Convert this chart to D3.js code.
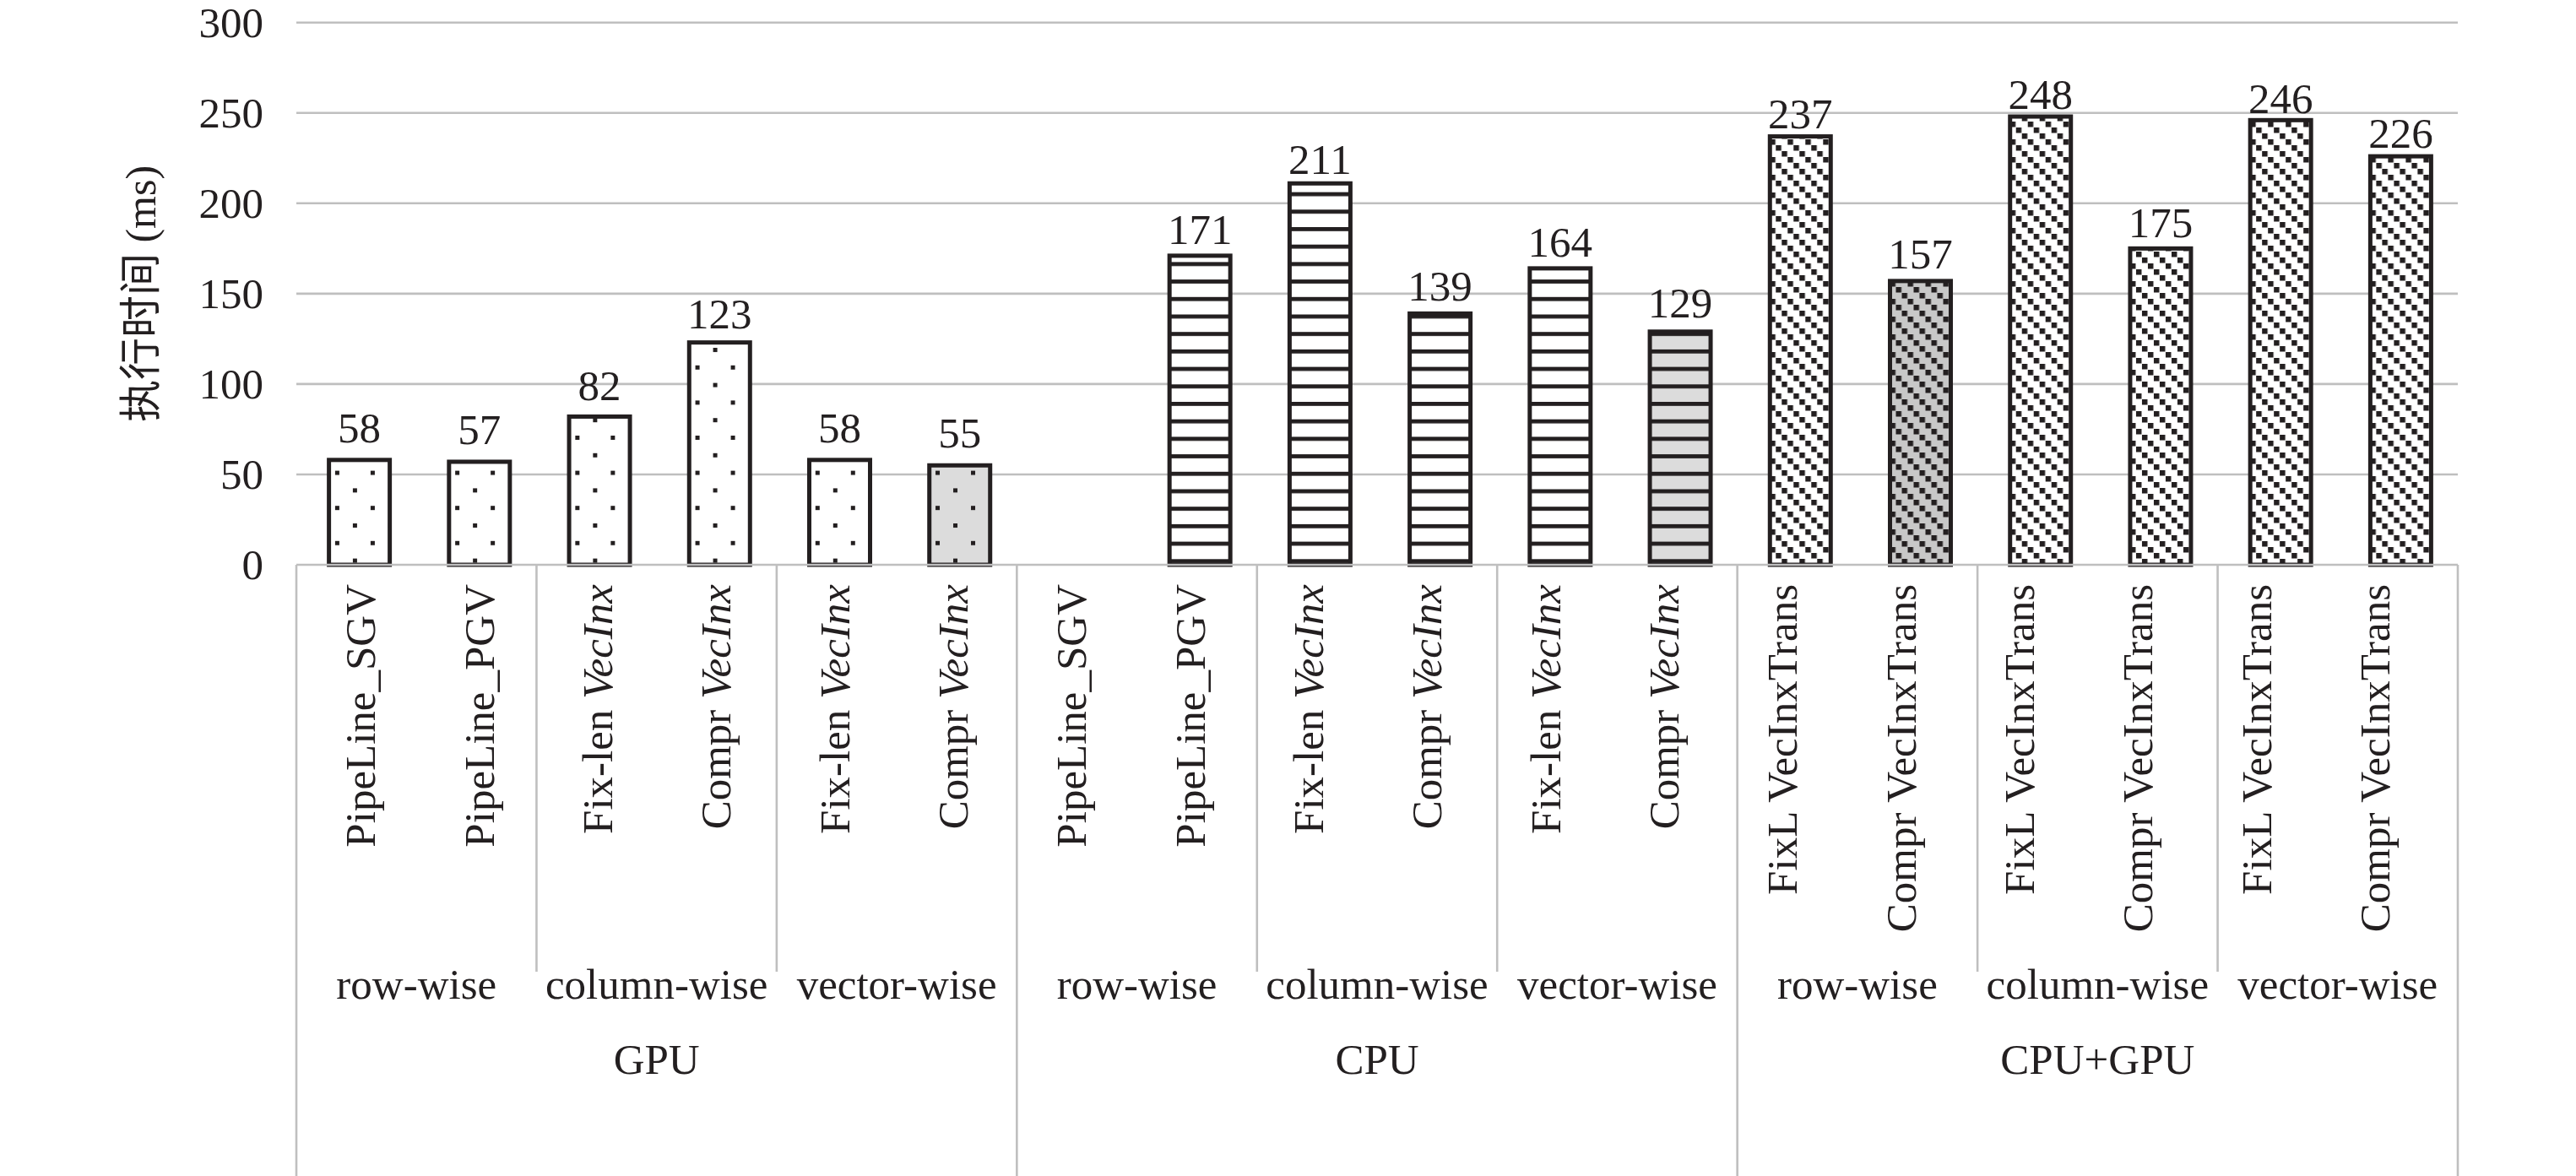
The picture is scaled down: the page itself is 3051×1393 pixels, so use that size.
<!DOCTYPE html>
<html>
<head>
<meta charset="utf-8">
<script src="https://cdn.jsdelivr.net/npm/d3@7/dist/d3.min.js"></script>
<style>
  body { margin: 0; background: #fff; }
  svg { display: block; }
</style>
</head>
<body>
<svg id="chart"></svg>
<script>
var groups = ['GPU', 'CPU', 'CPU+GPU'];
var subgroups = ['row-wise', 'column-wise', 'vector-wise'];
var categories = [
  'PipeLine_SGV', 'PipeLine_PGV', 'Fix-len VecInx', 'Compr VecInx', 'Fix-len VecInx', 'Compr VecInx',
  'PipeLine_SGV', 'PipeLine_PGV', 'Fix-len VecInx', 'Compr VecInx', 'Fix-len VecInx', 'Compr VecInx',
  'FixL VecInxTrans', 'Compr VecInxTrans', 'FixL VecInxTrans', 'Compr VecInxTrans', 'FixL VecInxTrans', 'Compr VecInxTrans'
];
var values = [58, 57, 82, 123, 58, 55, null, 171, 211, 139, 164, 129, 237, 157, 248, 175, 246, 226];
var yTicks = [0, 50, 100, 150, 200, 250, 300];
var yTitle = '执行时间 (ms)';

// looks
var W = 3051, H = 1393;
var INK = '#231f20', GRID = '#bfbfbf';
var FONT = "'Liberation Serif', 'Times New Roman', 'Noto Sans CJK SC', serif";
var FS = 51;
var groupPattern = { 'GPU': 'dots', 'CPU': 'hlines', 'CPU+GPU': 'diag' };
var shaded = { 5: '#dcdcdc', 11: '#dcdcdc', 13: '#c8c8c8' };

var svg = d3.select('#chart').attr('width', W).attr('height', H)
  .style('font-family', FONT).style('fill', INK);

svg.append('rect').attr('width', W).attr('height', H).attr('fill', '#fff');

var n = categories.length;
var x = d3.scaleBand().domain(d3.range(n)).range([351, 2911]);
var y = d3.scaleLinear().domain([0, 300]).range([669, 26.7]);
// the label rows in the picture sit on a slightly tighter spacing than the bars
var labelX = d3.scaleBand().domain(d3.range(n)).range([357, 2883]);
var labelY = d3.scaleLinear().domain([0, 300]).range([644, 21.6]);

var x0 = x.range()[0], x1 = x.range()[1], step = x.step();
var barW = 72, shift = 3.5;

function barLeft(i) { return x(i) + x.bandwidth() / 2 + shift - barW / 2; }
function groupOf(i) { return groups[Math.floor(i / 6)]; }

// gridlines
svg.append('g').selectAll('line')
  .data(yTicks.filter(function(d) { return d > 0; }))
  .join('line')
  .attr('x1', x0).attr('x2', x1)
  .attr('y1', function(d) { return y(d); })
  .attr('y2', function(d) { return y(d); })
  .attr('stroke', GRID).attr('stroke-width', 2.6);

// y axis labels
var yAxis = svg.append('g')
  .attr('transform', 'translate(' + x0 + ',0)')
  .call(d3.axisLeft(y).tickValues(yTicks).tickSize(0).tickPadding(39));
yAxis.select('.domain').remove();
yAxis.selectAll('text')
  .attr('font-family', FONT).attr('font-size', FS).attr('fill', INK);

// bar fills
var defs = svg.append('defs');
var barIdx = d3.range(n).filter(function(i) { return values[i] != null; });

barIdx.forEach(function(i) {
  var kind = groupPattern[groupOf(i)];
  var bg = shaded[i] || '#fff';
  var p = defs.append('pattern')
    .attr('id', 'fill-' + i)
    .attr('patternUnits', 'userSpaceOnUse');
  if (kind === 'dots') {
    p.attr('x', barLeft(i) + 7.3).attr('y', y(0) - 28.2)
      .attr('width', 42).attr('height', 41.6);
    p.append('rect').attr('width', 42).attr('height', 41.6).attr('fill', bg);
    p.append('rect').attr('x', 0).attr('y', 0).attr('width', 5).attr('height', 5).attr('fill', INK);
    p.append('rect').attr('x', 21).attr('y', 20.8).attr('width', 5).attr('height', 5).attr('fill', INK);
  } else if (kind === 'hlines') {
    p.attr('x', 0).attr('y', y(0) - 6.7)
      .attr('width', 20).attr('height', 20.7);
    p.append('rect').attr('width', 20).attr('height', 20.7).attr('fill', bg);
    p.append('rect').attr('width', 20).attr('height', 4.8).attr('fill', INK);
  } else {
    p.attr('x', barLeft(i)).attr('y', y(0))
      .attr('width', 21).attr('height', 21);
    p.append('rect').attr('width', 21).attr('height', 21).attr('fill', bg);
    [0, 7, 14].forEach(function(k) {
      p.append('rect').attr('x', k).attr('y', k).attr('width', 6.5).attr('height', 6.5).attr('fill', INK);
    });
  }
});

// bars
svg.append('g').selectAll('rect')
  .data(barIdx)
  .join('rect')
  .attr('x', function(i) { return barLeft(i); })
  .attr('y', function(i) { return y(values[i]); })
  .attr('width', barW)
  .attr('height', function(i) { return y(0) - y(values[i]); })
  .attr('fill', function(i) { return 'url(#fill-' + i + ')'; })
  .attr('stroke', INK).attr('stroke-width', 5);

// zero line over the bar bottoms
svg.append('line')
  .attr('x1', x0).attr('x2', x1).attr('y1', y(0)).attr('y2', y(0))
  .attr('stroke', GRID).attr('stroke-width', 2.6);

// value labels
svg.append('g').selectAll('text')
  .data(barIdx)
  .join('text')
  .attr('x', function(i) { return barLeft(i) + barW / 2; })
  .attr('y', function(i) { return labelY(values[i]); })
  .attr('text-anchor', 'middle')
  .attr('font-size', FS)
  .text(function(i) { return values[i]; });

// category separators below the axis
var bounds = d3.range(0, n + 1, 2);
svg.append('g').selectAll('line')
  .data(bounds)
  .join('line')
  .attr('x1', function(d) { return x0 + d * step; })
  .attr('x2', function(d) { return x0 + d * step; })
  .attr('y1', y(0))
  .attr('y2', function(d) { return d % 6 === 0 ? H : 1151; })
  .attr('stroke', GRID).attr('stroke-width', 2.6);

// rotated category labels
var catText = svg.append('g').selectAll('text')
  .data(d3.range(n))
  .join('text')
  .attr('transform', function(i) {
    return 'translate(' + (labelX(i) + labelX.bandwidth() / 2 + 17) + ',692) rotate(-90)';
  })
  .attr('text-anchor', 'end')
  .attr('font-size', FS);

catText.each(function(i) {
  var t = d3.select(this);
  var m = categories[i].match(/^(.*) (VecInx)$/);
  if (m) {
    t.append('tspan').text(m[1] + ' ');
    t.append('tspan').attr('font-style', 'italic').text(m[2]);
  } else {
    t.text(categories[i]);
  }
});

// subgroup labels
svg.append('g').selectAll('text')
  .data(d3.range(n / 2))
  .join('text')
  .attr('x', function(k) { return x0 + (2 * k + 1) * step; })
  .attr('y', 1183)
  .attr('text-anchor', 'middle')
  .attr('font-size', FS)
  .text(function(k) { return subgroups[k % 3]; });

// group labels
svg.append('g').selectAll('text')
  .data(groups)
  .join('text')
  .attr('x', function(d, k) { return x0 + (6 * k + 3) * step; })
  .attr('y', 1272)
  .attr('text-anchor', 'middle')
  .attr('font-size', FS)
  .text(function(d) { return d; });

// y title
svg.append('text')
  .attr('transform', 'translate(167,348) rotate(-90)')
  .attr('text-anchor', 'middle')
  .attr('dominant-baseline', 'central')
  .attr('font-size', 50)
  .text(yTitle);
</script>
</body>
</html>
